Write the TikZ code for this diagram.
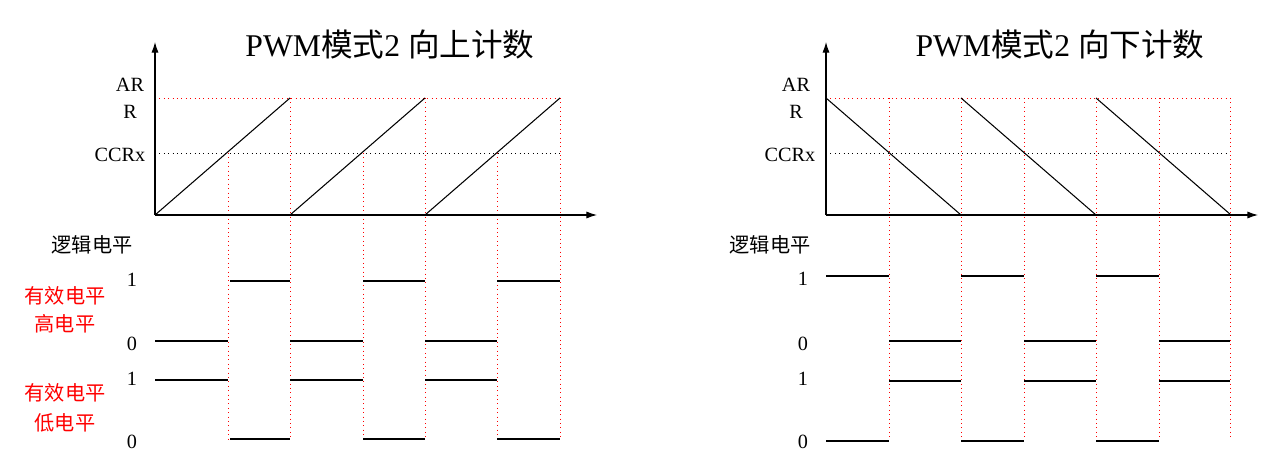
\documentclass[tikz,border=0pt]{standalone}
\usepackage{fontspec}
\setmainfont{Liberation Serif}
\newfontfamily\cjk{Noto Sans CJK SC}
\begin{document}
\begin{tikzpicture}[x=0.02cm,y=-0.02cm,
  ax/.style={-{Latex[length=6pt,width=4pt]},line width=0.6pt},
  rd/.style={red,dotted,line width=0.5pt},
  bd/.style={black,dotted,line width=0.5pt},
  wv/.style={line width=0.6pt},
  lb/.style={font=\fontsize{11.5}{13}\selectfont,inner sep=0pt},
  ttl/.style={font=\fontsize{18}{20}\selectfont,inner sep=0pt}]
\usetikzlibrary{arrows.meta}
\useasboundingbox (0,0) rectangle (1283,459);
% ---------- left ----------
\node[ttl] (t1) at (390,45) {PWM{\cjk 模式}2 {\cjk 向上计数}};
\draw[rd] (155,98) -- (560,98);
\draw[bd] (155,153) -- (560,153);
\foreach \x in {290,425,560} \draw[rd] (\x,98) -- (\x,440);
\foreach \x in {228,363,497} \draw[rd] (\x,153) -- (\x,440);
\draw[ax] (155,215) -- (155,42);
\draw[ax] (155,215) -- (597,215);
\foreach \a in {155,290,425} \draw[wv] (\a,215) -- ++(135,-117);
\node[lb] at (130,85) {AR};
\node[lb] at (130,112) {R};
\node[lb] at (120,155) {CCRx};
\node[lb] at (92,245) {\cjk 逻辑电平};
\node[lb] at (132,280) {1};
\node[lb] at (132,344) {0};
\node[lb] at (132,379) {1};
\node[lb] at (132,442) {0};
\node[lb,red] at (65,296) {\cjk 有效电平};
\node[lb,red] at (65,324) {\cjk 高电平};
\node[lb,red] at (65,393) {\cjk 有效电平};
\node[lb,red] at (65,423) {\cjk 低电平};
\foreach \a/\b in {230/290,363/425,497/560} \draw[wv] (\a,281) -- (\b,281);
\foreach \a/\b in {155/228,290/363,425/497} \draw[wv] (\a,341) -- (\b,341);
\foreach \a/\b in {155/228,290/363,425/497} \draw[wv] (\a,380) -- (\b,380);
\foreach \a/\b in {230/290,363/425,497/560} \draw[wv] (\a,439) -- (\b,439);
% ---------- right ----------
\node[ttl] (t2) at (1060,45) {PWM{\cjk 模式}2 {\cjk 向下计数}};
\draw[rd] (826,98) -- (1230,98);
\draw[bd] (826,153) -- (1230,153);
\foreach \x in {889,961,1024,1096,1159,1230} \draw[rd] (\x,98) -- (\x,440);
\draw[ax] (826,215) -- (826,42);
\draw[ax] (826,215) -- (1258,215);
\foreach \a in {826,961,1096} \draw[wv] (\a,98) -- ++(135,117);
\node[lb] at (796,85) {AR};
\node[lb] at (796,112) {R};
\node[lb] at (790,155) {CCRx};
\node[lb] at (770,245) {\cjk 逻辑电平};
\node[lb] at (803,279) {1};
\node[lb] at (803,344) {0};
\node[lb] at (803,379) {1};
\node[lb] at (803,442) {0};
\foreach \a/\b in {826/889,961/1024,1096/1159} \draw[wv] (\a,276) -- (\b,276);
\foreach \a/\b in {889/961,1024/1096,1159/1230} \draw[wv] (\a,341) -- (\b,341);
\foreach \a/\b in {889/961,1024/1096,1159/1230} \draw[wv] (\a,381) -- (\b,381);
\foreach \a/\b in {826/889,961/1024,1096/1159} \draw[wv] (\a,441) -- (\b,441);
\end{tikzpicture}
\end{document}
